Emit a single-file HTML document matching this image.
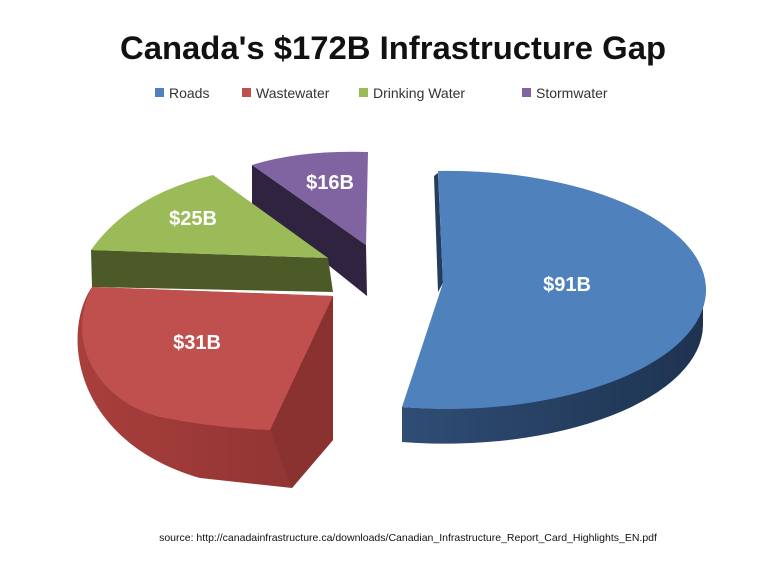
<!DOCTYPE html>
<html><head><meta charset="utf-8"><style>
body{margin:0;background:#fff;}
svg{display:block;font-family:"Liberation Sans",sans-serif;}
</style></head><body>
<svg width="768" height="576" viewBox="0 0 768 576">
<defs>
<linearGradient id="bs" x1="0" x2="1"><stop offset="0" stop-color="#2f4d75"/><stop offset="1" stop-color="#1e3350"/></linearGradient>
<linearGradient id="rs" x1="0" x2="1"><stop offset="0" stop-color="#a83f3c"/><stop offset="1" stop-color="#8e3331"/></linearGradient>
</defs>
<rect width="768" height="576" fill="#fff"/>
<text x="393" y="59" text-anchor="middle" font-size="32" font-weight="bold" fill="#111" textLength="546" lengthAdjust="spacingAndGlyphs">Canada's $172B Infrastructure Gap</text>
<g font-size="14" fill="#333">
<rect x="155" y="88" width="9" height="9" fill="#4f81bd"/><text x="169" y="98">Roads</text>
<rect x="242" y="88" width="9" height="9" fill="#c0504d"/><text x="256" y="98">Wastewater</text>
<rect x="359" y="88" width="9" height="9" fill="#9bbb59"/><text x="373" y="98">Drinking Water</text>
<rect x="522" y="88" width="9" height="9" fill="#8064a2"/><text x="536" y="98">Stormwater</text>
</g>
<!-- purple -->
<polygon points="252,165 366,245 367,296 252,204" fill="#2f2340"/>
<path d="M252,165 Q300,150 368,152 L366,245 Z" fill="#8064a2"/>
<!-- green -->
<polygon points="91,250 328,258 333,292 92,287" fill="#4b5a26"/>
<path d="M91,250 Q130,195 213,175 L328,258 Z" fill="#9bbb59"/>
<!-- red -->
<path d="M92,287 C62,330 70,440 200,478 L292,488 L333,440 L333,296 Z" fill="url(#rs)"/>
<polygon points="333,296 270,430 292,488 333,440" fill="#8a3230"/>
<path d="M92,287 L333,296 L270,430 Q215,428 160,417 C95,400 65,340 92,287 Z" fill="#c0504d"/>
<!-- blue -->
<path d="M703,290 A258 119 0 0 1 402,407 L402,442 A258 119 0 0 0 703,325 Z" fill="url(#bs)"/>
<polygon points="438,173 443,283 438,292 434,176" fill="#243d5e"/>
<path d="M443,283 L438,171 A258 119 0 1 1 402,407 Z" fill="#4f81bd"/>
<g font-size="20" font-weight="bold" fill="#fff" text-anchor="middle">
<text x="567" y="291">$91B</text>
<text x="197" y="349">$31B</text>
<text x="193" y="225">$25B</text>
<text x="330" y="189">$16B</text>
</g>
<text x="408" y="541" text-anchor="middle" font-size="10.5" fill="#111">source: http://canadainfrastructure.ca/downloads/Canadian_Infrastructure_Report_Card_Highlights_EN.pdf</text>
</svg>
</body></html>
